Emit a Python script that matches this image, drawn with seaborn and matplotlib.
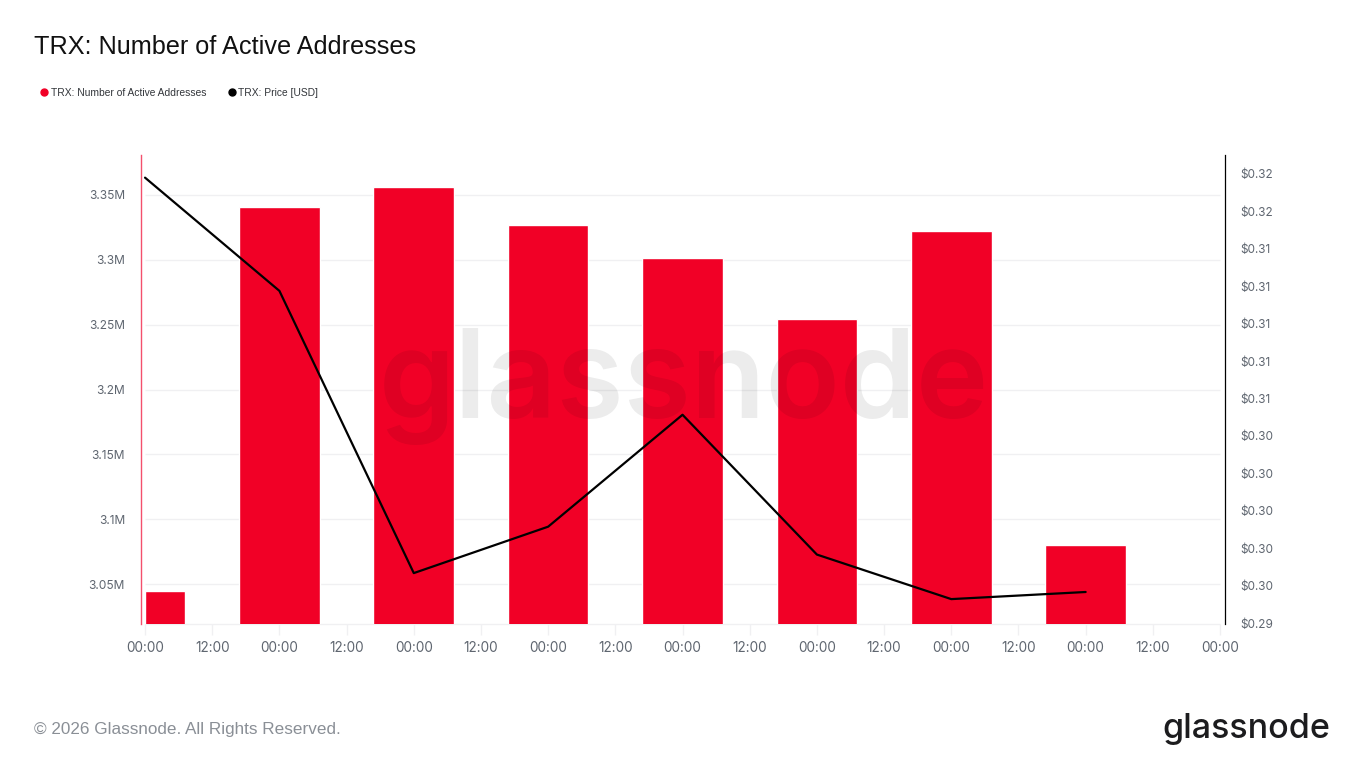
import matplotlib
matplotlib.use("Agg")
import matplotlib.pyplot as plt
from matplotlib.lines import Line2D
from matplotlib.ticker import FuncFormatter
import numpy as np
import seaborn as sns

# values, x is days from the first bar
days = [0, 1, 2, 3, 4, 5, 6, 7]
active_addresses = [3.0452e6, 3.3402e6, 3.3559e6, 3.3264e6, 3.3010e6, 3.2541e6, 3.3216e6, 3.0802e6]
price = [0.31780, 0.31175, 0.29667, 0.29915, 0.30513, 0.29766, 0.29528, 0.29566]

left_ticks = [3.05e6, 3.10e6, 3.15e6, 3.20e6, 3.25e6, 3.30e6, 3.35e6]
left_labels = ["3.05M", "3.1M", "3.15M", "3.2M", "3.25M", "3.3M", "3.35M"]
right_ticks = [0.294, 0.296, 0.298, 0.300, 0.302, 0.304, 0.306, 0.308, 0.310, 0.312, 0.314, 0.316, 0.318]
x_ticks = [0, 0.5, 1, 1.5, 2, 2.5, 3, 3.5, 4, 4.5, 5, 5.5, 6, 6.5, 7, 7.5, 8]
x_labels = ["00:00", "12:00"] * 8 + ["00:00"]

RED = "#f10026"
GRID = "#f0f0f2"
TICK_TEXT = "#5f6670"

sns.set_style("white")
plt.rcParams["font.family"] = ["Inter", "DejaVu Sans"]

W, H = 1366, 768
fig = plt.figure(figsize=(W / 100, H / 100), dpi=100)
ax = fig.add_axes([141 / W, 1 - 624 / H, (1225 - 141) / W, (624 - 155) / H])

sns.barplot(x=days, y=active_addresses, native_scale=True, width=0.6, color=RED,
            saturation=1, ax=ax, zorder=3)
ax.set_xlim(-0.03, 8.037)
ax.set_ylim(3.0196e6, 3.3804e6)

# first bar is cut off at the start of the range
first = ax.patches[0]
first.set_x(0)
first.set_width(0.3)

ax.hlines(left_ticks + [3.0196e6], 0, 8, color=GRID, lw=1, zorder=1, clip_on=False)

# watermark lies over the bars, under the price line
ax.text(684 / W, 1 - 418 / H, "glassnode", transform=fig.transFigure, family="Inter", fontsize=88,
        fontweight="semibold", color="black", alpha=0.075, ha="center", va="baseline", zorder=4, clip_on=False)

ax.set_xticks(x_ticks)
ax.set_xticklabels(x_labels)
ax.set_yticks(left_ticks)
ax.set_yticklabels(left_labels)
ax.set_xlabel("")
ax.set_ylabel("")
ax.tick_params(axis="x", length=8, width=1, color=GRID, labelcolor=TICK_TEXT, labelsize=9.8, pad=4, bottom=True)
ax.tick_params(axis="y", length=0, labelcolor=TICK_TEXT, labelsize=8.6, pad=11.5)
for s in ["top", "right", "bottom"]:
    ax.spines[s].set_visible(False)
ax.spines["left"].set_color("#f4506c")
ax.spines["left"].set_linewidth(1)

ax2 = ax.twinx()
sns.lineplot(x=days, y=price, color="black", lw=1.6, ax=ax2, zorder=5)
ax2.set_ylim(0.29395, 0.31901)
ax2.set_yticks(right_ticks)
ax2.yaxis.set_major_formatter(FuncFormatter(lambda v, _: f"${v:.2f}"))
ax2.tick_params(axis="y", length=0, labelcolor=TICK_TEXT, labelsize=8.5, pad=11)
ax2.set_ylabel("")
for s in ["top", "left", "bottom"]:
    ax2.spines[s].set_visible(False)
ax2.spines["right"].set_color("black")
ax2.spines["right"].set_linewidth(0.9)

fig.text(34 / W, 1 - 47.5 / H, "TRX: Number of Active Addresses", family="Liberation Sans",
         fontsize=18.2, color="#111111", va="center")

handles = [Line2D([], [], ls="", marker="o", ms=5, color=RED),
           Line2D([], [], ls="", marker="o", ms=5, color="black")]
fig.legend(handles, ["TRX: Number of Active Addresses", "TRX: Price [USD]"], ncols=2,
           loc="center left", bbox_to_anchor=(30 / W, 1 - 92.5 / H), frameon=False,
           prop={"family": "Liberation Sans", "size": 7.4}, labelcolor="#33363b",
           handlelength=1, handletextpad=0.1, columnspacing=2.05)

fig.text(34 / W, 1 - 729.5 / H, "© 2026 Glassnode. All Rights Reserved.", family="Liberation Sans",
         fontsize=12.3, color="#8a8f96", va="center")
fig.text(1330 / W, 1 - 738 / H, "glassnode", family="Inter", fontsize=24.5, fontweight="medium",
         color="#1c1c1e", ha="right", va="baseline")

fig.savefig("out.png", dpi=100)
